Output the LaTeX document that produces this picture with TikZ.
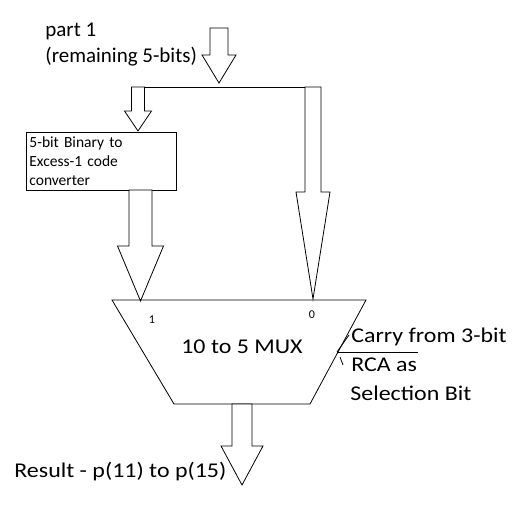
\documentclass[tikz,border=0pt]{standalone}
\usepackage{fontspec}
\setmainfont{Carlito}
\newfontfamily\widefont[FakeStretch=1.14]{Carlito}
\usetikzlibrary{positioning}
\tikzset{
  big/.style = {font=\fontsize{21}{27}\selectfont, inner sep=0pt, anchor=base west},
  wide/.style = {big, font=\widefont\fontsize{21}{27}\selectfont},
  small/.style = {font=\fontsize{12}{14}\selectfont, inner sep=0pt, anchor=base},
  fat/.style = {draw, line width=0.8pt, fill=white},
  convbox/.style = {draw, line width=0.8pt, anchor=north west, minimum width=150pt,
    minimum height=58pt, text width=144pt, inner sep=3pt, align=left,
    font=\fontsize{15.5}{19}\selectfont}
}
% block arrow: centre x, top, end of shaft, tip, half shaft, half head
\newcommand{\fatarrow}[6]{%
  \draw [fat] (#1-#5,#2) -- (#1-#5,#3) -- (#1-#6,#3) -- (#1,#4)
    -- (#1+#6,#3) -- (#1+#5,#3) -- (#1+#5,#2) -- cycle;}
\begin{document}
\begin{tikzpicture}[x=1pt, y=-1pt, line width=0.8pt]
  \useasboundingbox (0,0) rectangle (513,520);

  % input and split
  \node [big] (part) at (45,36) {part 1};
  \node [big] (rem) at (45,62) {(remaining 5-bits)};
  \fatarrow{219}{28}{55}{83}{9}{17}
  \draw (131,87) coordinate (L) -- (321,87) coordinate (R);

  % converter
  \fatarrow{138}{87}{111}{131}{6.5}{13.5}
  \node [convbox] (conv) at (26,132)
    {5-bit Binary to\\Excess-1 code\\converter};
  \fatarrow{140.5}{190}{246}{301}{11.5}{23}
  \fatarrow{313}{87}{192}{299}{8}{17}

  % mux
  \draw (112,300) coordinate (A) -- (366,300) coordinate (B)
    -- (310,404) coordinate (C) -- (174,404) coordinate (D) -- cycle;
  \node [small] (one) at (152,323) {1};
  \node [small] (zero) at (312,318) {0};
  \node [wide, anchor=base] (mux) at (242,353) {10 to 5 MUX};

  % selection
  \draw (337,352) coordinate (S) -- (418,352);
  \draw (S) -- (349,335);
  \draw (340,357) -- (343,365);
  \node [wide] (sel1) at (351,342) {Carry from 3-bit};
  \node [wide] (sel2) at (351,371) {RCA as};
  \node [wide] (sel3) at (350,400) {Selection Bit};

  % output
  \fatarrow{242}{404}{446}{485}{10}{21}
  \node [wide] (res) at (14,477) {Result - p(11) to p(15)};
\end{tikzpicture}
\end{document}
